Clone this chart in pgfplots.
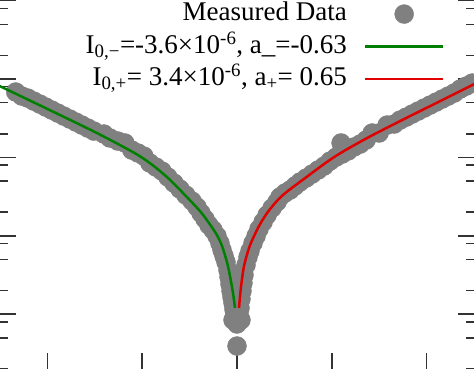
\documentclass[border=0pt]{standalone}
\usepackage{pgfplots}
\pgfplotsset{compat=1.18}
\usepackage{fontspec}
\setmainfont{Liberation Serif}
\definecolor{markgray}{HTML}{808080}
\definecolor{fitgreen}{HTML}{008000}
\definecolor{fitred}{HTML}{E00000}
\begin{document}
\begin{tikzpicture}
\begin{axis}[
  width=474pt, height=369pt, scale only axis,
  xmin=-2.5, xmax=2.5,
  ymode=log, ymin=2.0e-9, ymax=1.02e-4,
  xtick={-2,-1,0,1,2}, xtick pos=left,
  ytick={1e-8,1e-7,1e-6,1e-5,1e-4},
  minor ytick={2e-9,5e-9,8e-9,2e-8,5e-8,8e-8,2e-7,5e-7,8e-7,2e-6,5e-6,8e-6,2e-5,5e-5,8e-5},
  ytick pos=both,
  xticklabels={}, yticklabels={},
  tick align=inside,
  major tick length=16pt, minor tick length=8pt,
  every tick/.style={line width=1.5pt, black!80},
  axis line style={draw=none},
  clip marker paths=true,
  legend cell align=right,
  legend plot pos=right,
  legend image code/.code={\draw[mark repeat=2,mark phase=2,#1] plot coordinates {(0pt,0pt) (39pt,0pt) (78pt,0pt)};},
  legend style={draw=none, fill=none, inner sep=0pt, at={(0.9380,0.999)}, anchor=north east,
    font=\fontsize{27}{31}\selectfont, row sep=5.5pt, column sep=17pt,
    nodes={inner sep=0pt, text height=20pt, text depth=7pt}},
]
\coordinate (sw) at (rel axis cs:0,0);
\coordinate (ne) at (rel axis cs:1,1);
\addplot[only marks, mark=*, color=markgray, mark size=9.5pt, mark options={draw=markgray, fill=markgray}] coordinates {
(-2.334,6.83e-6) (-2.270,6.07e-6) (-2.207,5.72e-6) (-2.144,5.24e-6) (-2.080,4.80e-6)
(-2.017,4.39e-6) (-1.954,4.02e-6) (-1.890,3.68e-6) (-1.827,3.37e-6) (-1.763,3.09e-6)
(-1.700,2.83e-6) (-1.637,2.59e-6) (-1.573,2.37e-6) (-1.510,2.17e-6) (-1.404,1.99e-6)
(-1.341,1.77e-6) (-1.257,1.62e-6) (-1.183,1.53e-6) (-1.109,1.24e-6) (-1.045,1.14e-6)
(-0.982,1.04e-6) (-0.919,8.48e-7) (-0.855,7.54e-7) (-0.792,6.71e-7) (-0.729,5.62e-7)
(-0.665,4.71e-7) (-0.602,3.95e-7) (-0.539,3.31e-7) (-0.475,2.78e-7) (-0.422,2.33e-7)
(-0.380,1.95e-7) (-0.338,1.64e-7) (-0.296,1.37e-7) (-0.253,1.19e-7) (-0.211,9.94e-8)
(-0.180,8.09e-8) (-0.158,6.59e-8) (-0.137,5.53e-8) (-0.116,4.63e-8) (-0.095,3.66e-8)
(-0.084,2.98e-8) (-0.074,2.43e-8) (-0.063,1.98e-8) (-0.053,1.66e-8) (-0.042,1.39e-8)
(-0.032,1.16e-8) (-0.021,1.01e-8)
(-0.042,8.43e-9) (0.042,8.43e-9) (0,7.50e-9) (0,3.93e-9)
(0.021,1.01e-8) (0.032,1.20e-8) (0.042,1.56e-8) (0.053,1.98e-8) (0.063,2.50e-8)
(0.074,3.16e-8) (0.095,4.24e-8) (0.116,5.36e-8) (0.137,6.40e-8) (0.169,8.09e-8)
(0.201,9.94e-8) (0.232,1.22e-7) (0.275,1.50e-7) (0.317,1.84e-7) (0.370,2.26e-7)
(0.422,2.70e-7) (0.454,3.13e-7) (0.507,3.52e-7) (0.560,3.84e-7) (0.612,4.32e-7)
(0.665,4.86e-7) (0.729,5.46e-7) (0.792,6.14e-7) (0.855,6.91e-7) (0.919,7.77e-7)
(0.982,9.00e-7) (1.045,1.01e-6) (1.098,1.53e-6) (1.109,1.105e-6) (1.172,1.21e-6)
(1.235,1.36e-6) (1.299,1.48e-6) (1.362,1.67e-6) (1.426,2.05e-6) (1.499,2.05e-6)
(1.584,2.59e-6) (1.658,2.67e-6) (1.721,3.00e-6) (1.785,3.27e-6) (1.848,3.58e-6)
(1.911,3.91e-6) (1.975,4.27e-6) (2.038,4.66e-6) (2.101,5.09e-6) (2.165,5.56e-6)
(2.228,6.07e-6) (2.291,6.63e-6) (2.355,7.45e-6) (2.418,8.14e-6) (2.482,8.89e-6)
};
\addlegendentry{Measured Data}
\addplot[fitgreen, line width=2.5pt, smooth, no marks] coordinates {
(-2.503,8.14e-6) (-1.975,4.02e-6) (-1.478,2.05e-6) (-1.098,1.17e-6) (-0.919,8.48e-7)
(-0.739,5.62e-7) (-0.570,3.52e-7) (-0.391,2.07e-7) (-0.296,1.46e-7) (-0.211,1.02e-7)
(-0.158,7.41e-8) (-0.106,4.63e-8) (-0.074,3.07e-8) (-0.042,1.86e-8) (-0.021,1.20e-8)
};
\addlegendentry{I\textsubscript{0,−}=-3.6×10\textsuperscript{-6}, a\_=-0.63}
\addplot[fitred, line width=2.5pt, smooth, no marks] coordinates {
(0.021,1.20e-8) (0.042,2.22e-8) (0.074,4.12e-8) (0.127,6.99e-8) (0.180,9.94e-8)
(0.243,1.41e-7) (0.317,1.95e-7) (0.401,2.62e-7) (0.496,3.41e-7) (0.676,5.00e-7)
(1.024,1.01e-6) (1.373,1.77e-6) (1.763,3.09e-6) (2.144,5.24e-6) (2.503,8.63e-6)
};
\addlegendentry{I\textsubscript{0,+}= 3.4×10\textsuperscript{-6}, a\textsubscript{+}= 0.65}
\end{axis}
\pgfresetboundingbox
\path[use as bounding box] (sw) rectangle (ne);
\end{tikzpicture}
\end{document}
